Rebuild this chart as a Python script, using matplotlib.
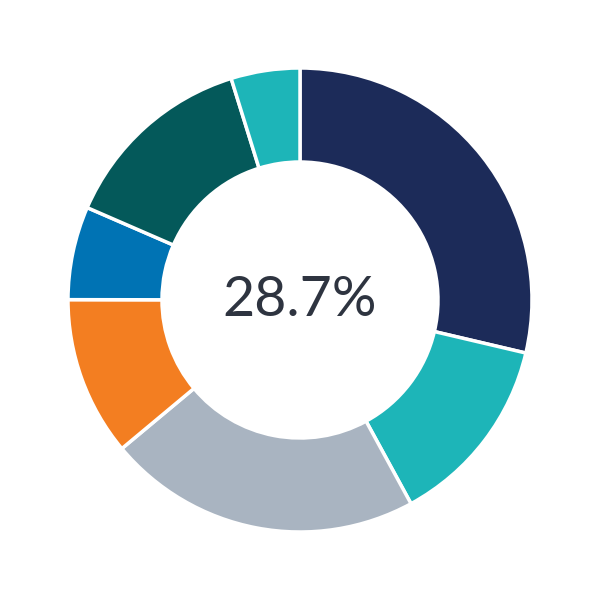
import matplotlib.pyplot as plt

shares = [28.7, 13.4, 21.9, 11.1, 6.5, 13.7, 4.8]
colors = ['#1c2b59', '#1db5b8', '#a9b4c1', '#f37e21', '#0073b4', '#04595a', '#1db5b8']
center_label = '28.7%'

fig = plt.figure(figsize=(6, 6), dpi=100)
ax = fig.add_axes([0, 0, 1, 1])

R = 232.0
ax.pie(shares, colors=colors, startangle=90, counterclock=False,
       radius=1.0, wedgeprops=dict(width=94 / R, edgecolor='white', linewidth=2.5))
ax.set_xlim(-300 / R, 300 / R)
ax.set_ylim(-300 / R, 300 / R)
ax.set_aspect('equal')
ax.axis('off')

ax.text(0, 0, center_label, ha='center', va='center', fontsize=40,
        color='#2e3440', family=['Lato', 'DejaVu Sans'])

fig.savefig('out.png', dpi=100, facecolor='white')
